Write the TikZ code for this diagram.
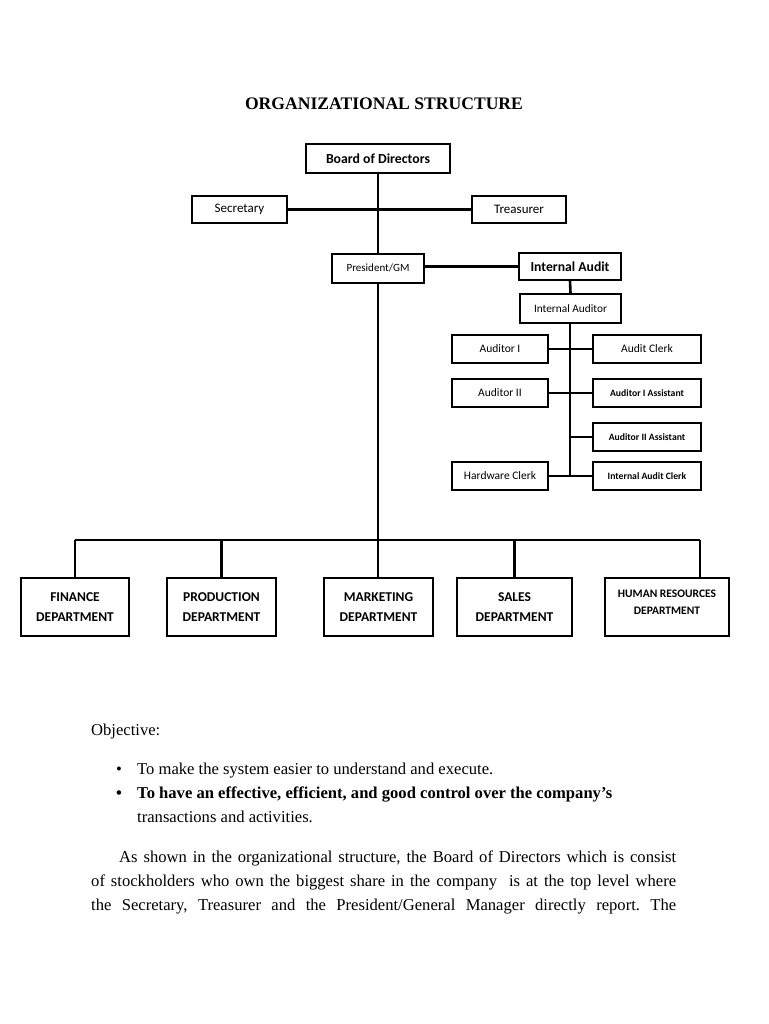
\documentclass[tikz,border=0pt]{standalone}
\usepackage{fontspec}
\setmainfont{Liberation Serif}
\newfontfamily\calib{Carlito}
\frenchspacing
\begin{document}
\begin{tikzpicture}[x=1pt,y=-1pt,
  box/.style={draw=black, line width=2pt, fill=white, rectangle, inner sep=1pt, align=center, font=\calib\fontsize{13}{15}\selectfont},
  conn/.style={line width=2.6pt},
  small/.style={font=\calib\fontsize{11.5}{13}\selectfont},
  tiny/.style={font=\calib\bfseries\fontsize{9.7}{11}\selectfont},
  dept/.style={minimum height=58pt, font=\calib\bfseries\fontsize{13.5}{20}\selectfont},
  body/.style={inner sep=0pt, anchor=base west, font=\fontsize{16.6}{19}\selectfont}]
\useasboundingbox[fill=white] (0,0) rectangle (768,1024);

\node[inner sep=0pt, font=\bfseries\fontsize{17.6}{20}\selectfont] (title) at (384,104) {ORGANIZATIONAL STRUCTURE};

\coordinate (busC) at (378,540);
\coordinate (hrtop) at (700,578);

\node[box, minimum width=144pt, minimum height=29pt, font=\calib\bfseries\fontsize{13.8}{15}\selectfont] (board) at (378,158.5) {Board of Directors};
\node[box, minimum width=95pt, minimum height=27pt] (sec) at (239.5,209.5) {Secretary};
\node[box, minimum width=94pt, minimum height=27pt] (tre) at (519,209.5) {Treasurer};
\node[box, minimum width=92pt, minimum height=29pt, font=\calib\fontsize{11}{13}\selectfont] (pres) at (378,268) {President/GM};
\node[box, minimum width=102pt, minimum height=27pt, font=\calib\bfseries\fontsize{13.7}{15}\selectfont] (ia) at (570,266.5) {Internal Audit};
\node[box, minimum width=101pt, minimum height=29pt, font=\calib\fontsize{11.3}{13}\selectfont] (iaor) at (570.5,308.5) {Internal Auditor};

\node[box, small, minimum width=96pt, minimum height=28pt] (a1) at (500,349) {Auditor I};
\node[box, small, minimum width=108pt, minimum height=28pt] (ac) at (647,349) {Audit Clerk};
\node[box, small, minimum width=96pt, minimum height=28pt] (a2) at (500,393) {Auditor II};
\node[box, tiny, minimum width=108pt, minimum height=28pt] (aia) at (647,393) {Auditor I Assistant};
\node[box, tiny, minimum width=108pt, minimum height=28pt] (aiia) at (647,437) {Auditor II Assistant};
\node[box, small, minimum width=96pt, minimum height=28pt] (hc) at (500,476) {Hardware Clerk};
\node[box, tiny, minimum width=108pt, minimum height=28pt] (iac) at (647,476) {Internal Audit Clerk};

\node[box, dept, minimum width=108pt] (fin) at (75,607) {FINANCE\\DEPARTMENT};
\node[box, dept, minimum width=109pt] (prod) at (221.5,607) {PRODUCTION\\DEPARTMENT};
\node[box, dept, minimum width=109pt] (mkt) at (378.5,607) {MARKETING\\DEPARTMENT};
\node[box, dept, minimum width=115pt] (sales) at (514.5,607) {SALES\\DEPARTMENT};
\node[box, dept, minimum width=124pt, font=\calib\bfseries\fontsize{11.5}{17}\selectfont, text depth=9.5pt] (hr) at (667,607) {HUMAN RESOURCES\\DEPARTMENT};

% connectors
\draw[conn] (board.south) -- (pres.north);
\draw[conn] (sec.east) -- (tre.west);
\draw[conn] (pres.east |- ia.west) -- (ia.west);
\draw[conn] (pres.south) -- (busC);
\draw[conn] (fin.north |- busC) -- (hrtop |- busC);
\draw[conn] (fin.north |- busC) -- (fin.north);
\draw[conn] (prod.north |- busC) -- (prod.north);
\draw[conn] (busC) -- (mkt.north -| busC);
\draw[conn] (sales.north |- busC) -- (sales.north);
\draw[conn] (hrtop |- busC) -- (hrtop);
\draw[conn] (ia.south) -- (iaor.north);
\draw[conn] (iaor.south -| ia.south) -- (ia.south |- hc.east);
\draw[conn] (a1.east) -- (ac.west);
\draw[conn] (a2.east) -- (aia.west);
\draw[conn] (aiia.west) -- (aiia.west -| ia.south);
\draw[conn] (hc.east) -- (iac.west);

% text
\node[body] (obj) at (91,735) {Objective:};
\node[body] (b1) at (116,774) {•};
\node[body] (t1) at (137,774) {To make the system easier to understand and execute.};
\node[body] (b2) at (116,798) {\textbf{•}};
\node[body] (t2) at (137,798) {\textbf{To have an effective, efficient, and good control over the company’s}};
\node[body] (t3) at (137,822) {transactions and activities.};
\node[body] (p1) at (119,862) {\makebox[557pt][s]{As shown in the organizational structure, the Board of Directors which is consist}};
\node[body] (p2) at (91,886) {\makebox[585pt][s]{of stockholders who own the biggest share in the company\ \ is at the top level where}};
\node[body] (p3) at (91,910) {\makebox[585pt][s]{the Secretary, Treasurer and the President/General Manager directly report. The}};
\end{tikzpicture}
\end{document}
